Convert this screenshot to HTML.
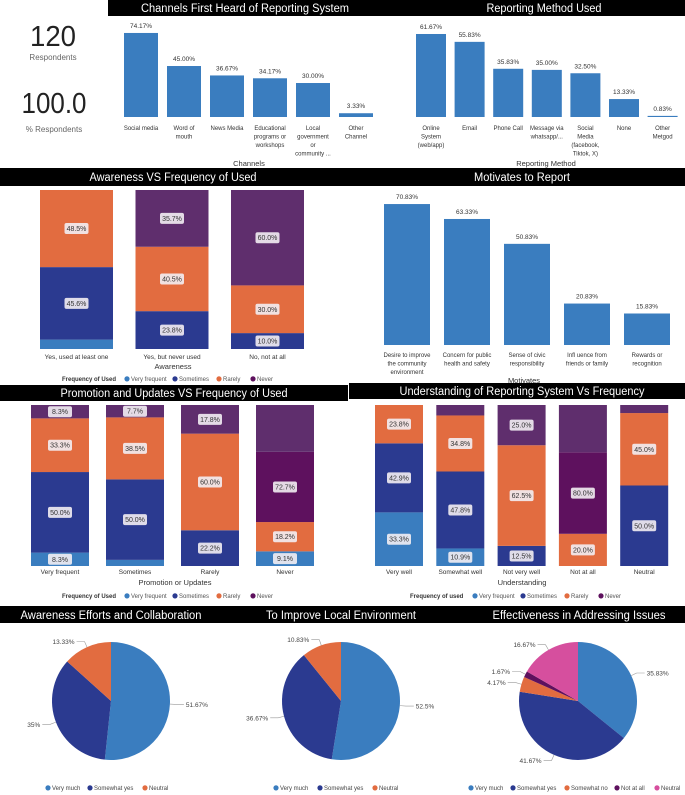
<!DOCTYPE html>
<html><head><meta charset="utf-8"><style>
html,body{margin:0;padding:0;background:#fff;}
svg{display:block;font-family:"Liberation Sans",sans-serif;}
</style></head><body>
<svg id="s" width="685" height="795" viewBox="0 0 685 795" xmlns="http://www.w3.org/2000/svg">
<g>
<rect x="108" y="0" width="577" height="16" fill="#000"/>
<text x="245" y="12" fill="#fff" font-size="11.5" text-anchor="middle" textLength="208" lengthAdjust="spacingAndGlyphs">Channels First Heard of Reporting System</text>
<text x="544" y="12" fill="#fff" font-size="11.5" text-anchor="middle" textLength="115" lengthAdjust="spacingAndGlyphs">Reporting Method Used</text>
<rect x="0" y="168" width="685" height="18" fill="#000"/>
<text x="173" y="181" fill="#fff" font-size="11.5" text-anchor="middle" textLength="167" lengthAdjust="spacingAndGlyphs">Awareness VS Frequency of Used</text>
<text x="522" y="181" fill="#fff" font-size="11.5" text-anchor="middle" textLength="96" lengthAdjust="spacingAndGlyphs">Motivates to Report</text>
<rect x="0" y="385" width="348" height="16" fill="#000"/>
<rect x="349" y="383" width="336" height="16" fill="#000"/>
<text x="174" y="397" fill="#fff" font-size="11.5" text-anchor="middle" textLength="227" lengthAdjust="spacingAndGlyphs">Promotion and Updates VS Frequency of Used</text>
<text x="522" y="395" fill="#fff" font-size="11.5" text-anchor="middle" textLength="245" lengthAdjust="spacingAndGlyphs">Understanding of Reporting System Vs Frequency</text>
<rect x="0" y="606" width="685" height="17" fill="#000"/>
<text x="111" y="619" fill="#fff" font-size="11.5" text-anchor="middle" textLength="181" lengthAdjust="spacingAndGlyphs">Awareness Efforts and Collaboration</text>
<text x="341" y="619" fill="#fff" font-size="11.5" text-anchor="middle" textLength="150" lengthAdjust="spacingAndGlyphs">To Improve Local Environment</text>
<text x="579" y="619" fill="#fff" font-size="11.5" text-anchor="middle" textLength="173" lengthAdjust="spacingAndGlyphs">Effectiveness in Addressing Issues</text>
</g>
<g>
<text x="53" y="46" font-size="29" text-anchor="middle" fill="#222" textLength="46" lengthAdjust="spacingAndGlyphs">120</text>
<text x="53" y="60" font-size="8" text-anchor="middle" fill="#666">Respondents</text>
<text x="54" y="113" font-size="29" text-anchor="middle" fill="#222" textLength="65" lengthAdjust="spacingAndGlyphs">100.0</text>
<text x="54" y="132" font-size="8" text-anchor="middle" fill="#666">% Respondents</text>
</g>
</svg>
<script>
const chCats=["Social media","Word of\nmouth","News Media","Educational\nprograms or\nworkshops","Local\ngovernment\nor\ncommunity ...","Other\nChannel"];
const chVals=[74.17,45.00,36.67,34.17,30.00,3.33];
const rmCats=["Online\nSystem\n(web/app)","Email","Phone Call","Message via\nwhatsapp/...","Social\nMedia\n(facebook,\nTiktok, X)","None","Other\nMetgod"];
const rmVals=[61.67,55.83,35.83,35.00,32.50,13.33,0.83];
const moCats=["Desire to improve\nthe community\nenvironment","Concern for public\nhealth and safety","Sense of civic\nresponsibility","Infl uence from\nfriends or family","Rewards or\nrecognition"];
const moVals=[70.83,63.33,50.83,20.83,15.83];

const awCats=["Yes, used at least one","Yes, but never used","No, not at all"];
const awVF=[5.9,0,0];
const awS=[45.6,23.8,10.0];
const awR=[48.5,40.5,30.0];
const awN2=[0,0,0];
const awN=[0,35.7,60.0];

const prCats=["Very frequent","Sometimes","Rarely","Never"];
const prVF=[8.3,3.8,0,9.1];
const prS=[50.0,50.0,22.2,0];
const prR=[33.3,38.5,60.0,18.2];
const prN2=[0,0,0,43.6];
const prN=[8.3,7.7,17.8,29.1];
const prN2Labels=["","","","72.7%"];

const unCats=["Very well","Somewhat well","Not very well","Not at all","Neutral"];
const unVF=[33.3,10.9,0,0,0];
const unS=[42.9,47.8,12.5,0,50.0];
const unR=[23.8,34.8,62.5,20.0,45.0];
const unN2=[0,0,0,50.6,0];
const unN=[0,6.5,25.0,29.4,5.0];
const unN2Labels=["","","","80.0%",""];

const p1Cats=["Very much","Somewhat yes","Neutral"];
const p1Vals=[51.67,35,13.33];
const p1Labels=["51.67%","35%","13.33%"];
const p2Cats=["Very  much","Somewhat yes","Neutral"];
const p2Vals=[52.5,36.67,10.83];
const p2Labels=["52.5%","36.67%","10.83%"];
const p3Cats=["Very much","Somewhat yes","Somewhat no","Not at all","Neutral"];
const p3Vals=[35.83,41.67,4.17,1.67,16.67];
const p3Labels=["35.83%","41.67%","4.17%","1.67%","16.67%"];

const NS="http://www.w3.org/2000/svg";
const svg=document.getElementById('s');
const BLUE="#3a7dbf",DBLUE="#2b3a90",ORANGE="#e26c40",PURPLE="#5f2e6d",DPURPLE="#5e115e",PINK="#d64f9e";
function el(tag,attrs,parent){const e=document.createElementNS(NS,tag);for(const k in attrs)e.setAttribute(k,attrs[k]);(parent||svg).appendChild(e);return e;}
function txt(x,y,s,size,anchor,fill,parent){const t=el('text',{x:x,y:y,'font-size':size,'text-anchor':anchor||'middle',fill:fill||'#333'},parent);t.textContent=s;return t;}
function multi(x,y,s,size,parent,lh){const lines=s.split("\n");lines.forEach((l,i)=>{const t=txt(x,y+i*(lh||8.5),l,size,'middle','#333',parent);

});}

function barChart(name,cats,vals,x0,step,w,baseY,scale,labY,axisTitle,axX,axY){
  const g=el('g',{});
  
  
  const yOf=v=>baseY-v*scale;
  cats.forEach((c,i)=>{
    const x=x0+i*step,h=vals[i]*scale;
    const r=el('rect',{x:x,y:yOf(vals[i]),width:w,height:h,fill:BLUE},g);
    
    
    const v=txt(x+w/2,yOf(vals[i])-5,vals[i].toFixed(2)+'%',6.5,'middle','#333',g);
    
    
    multi(x+w/2,labY,c,6,g);
  });
  const a=txt(axX,axY,axisTitle,7.5,'middle','#333',g);
  
  
}
barChart('channels-chart',chCats,chVals,124,43,34,117,1.133,130,'Channels',249,166);
barChart('reporting-method-chart',rmCats,rmVals,416,38.6,30,117,1.346,130,'Reporting Method',546,166);
barChart('motivates-chart',moCats,moVals,384,60,46,345,1.99,357,'Motivates',524,383);

function stackChart(name,cats,series,colors,labelSets,x0,step,w,top,bot,labY,axisTitle,axX,axY,legX,legY,legTitle){
  const g=el('g',{});
  
  
  const H=bot-top;
  cats.forEach((c,i)=>{
    const x=x0+i*step;let tot=0;series.forEach(s=>tot+=s[i]);
    let y=bot;
    series.forEach((s,k)=>{
      const h=s[i]/tot*H;if(h<=0)return;
      const r=el('rect',{x:x,y:y-h,width:w,height:h,fill:colors[k]},g);
      
      
      const lab=labelSets[k]?labelSets[k][i]:(s[i]>=7?s[i].toFixed(1)+'%':'');
      if(lab){const cy=y-h/2;
        const b=el('rect',{x:x+w/2-12,y:cy-5.5,width:24,height:11,rx:2,fill:'#f3eef3','fill-opacity':0.9},g);
        
        
        const t=txt(x+w/2,cy+2.5,lab,7,'middle','#333',g);
        
        }
      y-=h;
    });
    multi(x+w/2,labY,c,6.5,g);
  });
  const a=txt(axX,axY,axisTitle,7.5,'middle','#333',g);
  
  
  const lg=el('g',{},g);
  
  
  const names=["Very frequent","Sometimes","Rarely","Never"],lc=[BLUE,DBLUE,ORANGE,"#5e115e"];
  let lx=legX;
  const lt=txt(lx,legY,legTitle,6,'start','#333',lg);lt.setAttribute('font-weight','bold');
  
  
  lx+=62;
  const widths=[42,38,28,22];
  names.forEach((n,k)=>{
    const c=el('circle',{cx:lx+3,cy:legY-2.1,r:2.6,fill:lc[k]},lg);
    
    
    const t=txt(lx+7,legY,n,6,'start','#555',lg);
    
    
    lx+=widths[k]+6;
  });
}
const C5=[BLUE,DBLUE,ORANGE,DPURPLE,PURPLE];
stackChart('awareness-frequency-chart',awCats,[awVF,awS,awR,awN2,awN],C5,[null,null,null,null,null],40,95.5,73,190,349,359,'Awareness',173,369,62,381,'Frequency of Used');
stackChart('promotion-frequency-chart',prCats,[prVF,prS,prR,prN2,prN],C5,[null,null,null,prN2Labels,["8.3%","7.7%","17.8%",""]],31,75,58,405,566,574,'Promotion or Updates',175,585,62,598,'Frequency of Used');
stackChart('understanding-frequency-chart',unCats,[unVF,unS,unR,unN2,unN],C5,[null,null,null,unN2Labels,["","","25.0%","",""]],375,61.3,48,405,566,574,'Understanding',522,585,410,598,'Frequency of used');

function pie(name,cats,vals,labels,colors,cx,cy,r,legX,legY,legW){
  const g=el('g',{});
  
  
  let tot=0;vals.forEach(v=>tot+=v);
  let a=0;
  vals.forEach((v,i)=>{
    const a0=a/tot*2*Math.PI,a1=(a+v)/tot*2*Math.PI;a+=v;
    const p=(t,rr)=>[cx+rr*Math.sin(t),cy-rr*Math.cos(t)];
    const [x0,y0]=p(a0,r),[x1,y1]=p(a1,r);
    const large=(a1-a0)>Math.PI?1:0;
    const s=el('path',{d:`M${cx},${cy}L${x0},${y0}A${r},${r} 0 ${large} 1 ${x1},${y1}Z`,fill:colors[i]},g);
    
    
    const m=(a0+a1)/2;const [ex,ey]=p(m,r),[mx,my]=p(m,r+6);
    const right=Math.sin(m)>=0;const hx=mx+(right?8:-8);
    const ln=el('polyline',{points:`${ex},${ey} ${mx},${my} ${hx},${my}`,fill:'none',stroke:'#999','stroke-width':0.6},g);
    
    
    const t=txt(hx+(right?2:-2),my+2.5,labels[i],6.5,right?'start':'end','#444',g);
    
    
  });
  let lx=legX;
  cats.forEach((c,i)=>{
    const d=el('circle',{cx:lx+3,cy:legY-2.1,r:2.6,fill:colors[i]},g);
    
    
    const t=txt(lx+7,legY,c,6,'start','#444',g);
    
    
    lx+=legW[i];
  });
}
pie('pie-awareness-efforts',p1Cats,p1Vals,p1Labels,[BLUE,DBLUE,ORANGE],111,701,59,45,790,[42,55,35]);
pie('pie-improve-environment',p2Cats,p2Vals,p2Labels,[BLUE,DBLUE,ORANGE],341,701,59,273,790,[44,55,35]);
pie('pie-effectiveness',p3Cats,p3Vals,p3Labels,[BLUE,DBLUE,ORANGE,DPURPLE,PINK],578,701,59,468,790,[42,54,50,40,40]);
</script>
</body></html>
